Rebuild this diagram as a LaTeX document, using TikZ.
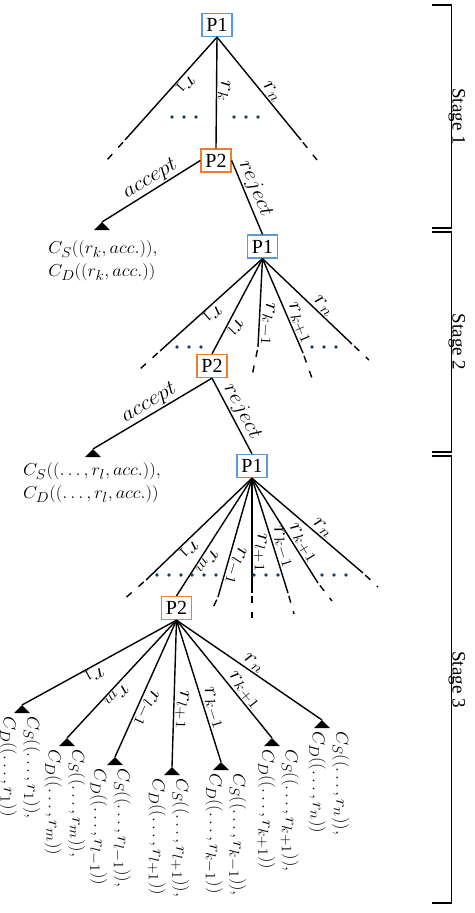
\documentclass[tikz,border=0pt]{standalone}
\usepackage[no-math]{fontspec}
\setmainfont{Liberation Serif}
\definecolor{pblue}{HTML}{5B9BD5}
\definecolor{porange}{HTML}{ED7D31}
\definecolor{dotc}{HTML}{1F3864}
\newcommand\leaftri[1]{\fill (#1) -- ++(-8,8) -- ++(16,0) -- cycle;}
\newcommand\threedots[1]{\fill[dotc] (#1) ++(-12,0) circle (1.8) ++(12,0) circle (1.8) ++(12,0) circle (1.8);}
\newcommand\wa[1]{\scalebox{1.2}[1]{#1}}
\newcommand\wb[1]{\scalebox{1.06}[1]{#1}}
\newcommand\wc[1]{\scalebox{1.1}[1]{#1}}
\begin{document}
\begin{tikzpicture}[x=1pt,y=-1pt,
  pbox/.style={draw, line width=1.3pt, minimum width=30pt, minimum height=23pt, inner sep=0pt, font=\fontsize{20}{22}\selectfont, fill=white},
  pone/.style={pbox, draw=pblue},
  ptwo/.style={pbox, draw=porange},
  conn/.style={line width=1.4pt, black},
  dashend/.style={conn, dash pattern=on 0pt off 3pt on 7pt off 6pt},
  rlab/.style={font=\fontsize{21}{23}\selectfont, sloped, allow upside down, above, inner sep=1pt},
  alab/.style={font=\fontsize{21}{23}\selectfont, sloped, above, inner sep=1.5pt},
  leaftext/.style={font=\fontsize{19}{23.5}\selectfont, align=left, inner sep=0pt},
  brk/.style={line width=1.3pt, black},
  stagelab/.style={font=\fontsize{19}{21}\selectfont, rotate=-90, anchor=base, inner sep=0pt}
]
\useasboundingbox (0,0) rectangle (474,913);

% ---------------- Stage 1 ----------------
\node[pone] (A1) at (217,25) {P1};
\node[ptwo] (B1) at (216,160.5) {P2};
\coordinate (a1s1) at (125,140); \coordinate (a1e1) at (107,160);
\coordinate (a1sn) at (301,140); \coordinate (a1en) at (317,160);
\draw[conn] (A1.south) -- node[rlab,pos=.41]{\wa{$r_1$}} (a1s1);
\draw[dashend] (a1s1) -- (a1e1);
\draw[conn] (A1.south) -- node[rlab,pos=.48]{\wa{$r_k$}} (B1.north);
\draw[conn] (A1.south) -- node[rlab,pos=.58]{\wa{$r_n$}} (a1sn);
\draw[dashend] (a1sn) -- (a1en);
\coordinate (d11) at (184,117); \coordinate (d12) at (246,117);
\threedots{d11} \threedots{d12}

\coordinate (T1) at (102,222);
\draw[conn] (B1.west) -- node[alab,pos=.45]{\wc{$accept$}} (T1);
\leaftri{T1}
\node[leaftext, anchor=north] (C1) at (103,240) {\wb{$C_S((r_k,acc.)),$}\\\wb{$C_D((r_k,acc.))$}};

% ---------------- Stage 2 ----------------
\node[pone] (A2) at (262.5,246.5) {P1};
\node[ptwo] (B2) at (212,366) {P2};
\draw[conn] (B1.east) -- node[alab,pos=.44]{\wc{$reject$}} (A2.north);
\coordinate (a2s1) at (160,351); \coordinate (a2e1) at (140,369);
\coordinate (a2s3) at (258,347); \coordinate (a2e3) at (252,376);
\coordinate (a2s4) at (303,353); \coordinate (a2e4) at (313,381);
\coordinate (a2s5) at (352,344); \coordinate (a2e5) at (369,360);
\draw[conn] (A2.south) -- node[rlab,pos=.545]{\wa{$r_1$}} (a2s1);
\draw[dashend] (a2s1) -- (a2e1);
\draw[conn] (A2.south) -- node[rlab,pos=.68]{\wa{$r_l$}} (B2.north);
\draw[conn] (A2.south) -- node[rlab,pos=.74]{\wa{$r_{k-1}$}} (a2s3);
\draw[dashend] (a2s3) -- (a2e3);
\draw[conn] (A2.south) -- node[rlab,pos=.72]{\wa{$r_{k+1}$}} (a2s4);
\draw[dashend] (a2s4) -- (a2e4);
\draw[conn] (A2.south) -- node[rlab,pos=.62]{\wa{$r_n$}} (a2s5);
\draw[dashend] (a2s5) -- (a2e5);
\coordinate (d21) at (189,347); \coordinate (d22) at (324,347);
\threedots{d21} \threedots{d22}

\coordinate (T2) at (93,449);
\draw[conn] (B2.south) -- node[alab,pos=.48]{\wc{$accept$}} (T2);
\leaftri{T2}
\node[leaftext, anchor=north] (C2) at (92,462) {\wb{$C_S((\ldots,r_l,acc.)),$}\\\wb{$C_D((\ldots,r_l,acc.))$}};

% ---------------- Stage 3 ----------------
\node[pone] (A3) at (252,466) {P1};
\node[ptwo] (B3) at (176.5,608) {P2};
\draw[conn] (B2.south) -- node[alab,pos=.51]{\wc{$reject$}} (A3.north);
\coordinate (a3s1) at (146,580); \coordinate (a3e1) at (122,601);
\coordinate (a3s3) at (218,597); \coordinate (a3e3) at (210,614);
\coordinate (a3s4) at (252,593); \coordinate (a3e4) at (252,618);
\coordinate (a3s5) at (288,593); \coordinate (a3e5) at (294,614);
\coordinate (a3s6) at (318,583); \coordinate (a3e6) at (332,601);
\coordinate (a3s7) at (363,573); \coordinate (a3e7) at (378,587);
\draw[conn] (A3.south) -- node[rlab,pos=.65]{\wa{$r_1$}} (a3s1);
\draw[dashend] (a3s1) -- (a3e1);
\draw[conn] (A3.south) -- node[rlab,pos=.68]{\wa{$r_m$}} (B3.north);
\draw[conn] (A3.south) -- node[rlab,pos=.72]{\wa{$r_{l-1}$}} (a3s3);
\draw[dashend] (a3s3) -- (a3e3);
\draw[conn] (A3.south) -- node[rlab,pos=.65]{\wa{$r_{l+1}$}} (a3s4);
\draw[dashend] (a3s4) -- (a3e4);
\draw[conn] (A3.south) -- node[rlab,pos=.62]{\wa{$r_{k-1}$}} (a3s5);
\draw[dashend] (a3s5) -- (a3e5);
\draw[conn] (A3.south) -- node[rlab,pos=.66]{\wa{$r_{k+1}$}} (a3s6);
\draw[dashend] (a3s6) -- (a3e6);
\draw[conn] (A3.south) -- node[rlab,pos=.59]{\wa{$r_n$}} (a3s7);
\draw[dashend] (a3s7) -- (a3e7);
\coordinate (d31) at (169,575); \coordinate (d32) at (204,575);
\coordinate (d33) at (266,575); \coordinate (d34) at (334,575);
\threedots{d31} \threedots{d32} \threedots{d33} \threedots{d34}

% leaves of stage 3
\coordinate (T31) at (22,705);
\coordinate (T32) at (67,738);
\coordinate (T33) at (115,757);
\coordinate (T34) at (172,767);
\coordinate (T35) at (221,762);
\coordinate (T36) at (272,738);
\coordinate (T37) at (322,720);
\draw[conn] (B3.south) -- node[rlab,pos=.56]{\wa{$r_1$}} (T31);
\draw[conn] (B3.south) -- node[rlab,pos=.60]{\wa{$r_m$}} (T32);
\draw[conn] (B3.south) -- node[rlab,pos=.62]{\wa{$r_{l-1}$}} (T33);
\draw[conn] (B3.south) -- node[rlab,pos=.61]{\wa{$r_{l+1}$}} (T34);
\draw[conn] (B3.south) -- node[rlab,pos=.64]{\wa{$r_{k-1}$}} (T35);
\draw[conn] (B3.south) -- node[rlab,pos=.64]{\wa{$r_{k+1}$}} (T36);
\draw[conn] (B3.south) -- node[rlab,pos=.50]{\wa{$r_n$}} (T37);
\leaftri{T31} \leaftri{T32} \leaftri{T33} \leaftri{T34} \leaftri{T35} \leaftri{T36} \leaftri{T37}
\node[leaftext, rotate=-90, anchor=west] (C31) at (20,716) {\wb{$C_S((\ldots,r_1)),$}\\\wb{$C_D((\ldots,r_1))$}};
\node[leaftext, rotate=-90, anchor=west] (C32) at (65,749) {\wb{$C_S((\ldots,r_m)),$}\\\wb{$C_D((\ldots,r_m))$}};
\node[leaftext, rotate=-90, anchor=west] (C33) at (110,768) {\wb{$C_S((\ldots,r_{l-1})),$}\\\wb{$C_D((\ldots,r_{l-1}))$}};
\node[leaftext, rotate=-90, anchor=west] (C34) at (168.5,778) {\wb{$C_S((\ldots,r_{l+1})),$}\\\wb{$C_D((\ldots,r_{l+1}))$}};
\node[leaftext, rotate=-90, anchor=west] (C35) at (225.5,773) {\wb{$C_S((\ldots,r_{k-1})),$}\\\wb{$C_D((\ldots,r_{k-1}))$}};
\node[leaftext, rotate=-90, anchor=west] (C36) at (278,749) {\wb{$C_S((\ldots,r_{k+1})),$}\\\wb{$C_D((\ldots,r_{k+1}))$}};
\node[leaftext, rotate=-90, anchor=west] (C37) at (329,731) {\wb{$C_S((\ldots,r_n)),$}\\\wb{$C_D((\ldots,r_n))$}};

% ---------------- Stage brackets ----------------
\draw[brk] (432,5) -- (451.5,5) -- (451.5,228) -- (432,228);
\draw[brk] (432,232) -- (451.5,232) -- (451.5,452) -- (432,452);
\draw[brk] (432,456) -- (451.5,456) -- (451.5,903) -- (432,903);
\node[stagelab] (S1) at (452.5,116.5) {Stage 1};
\node[stagelab] (S2) at (452.5,342) {Stage 2};
\node[stagelab] (S3) at (452.5,679.5) {Stage 3};
\end{tikzpicture}
\end{document}
